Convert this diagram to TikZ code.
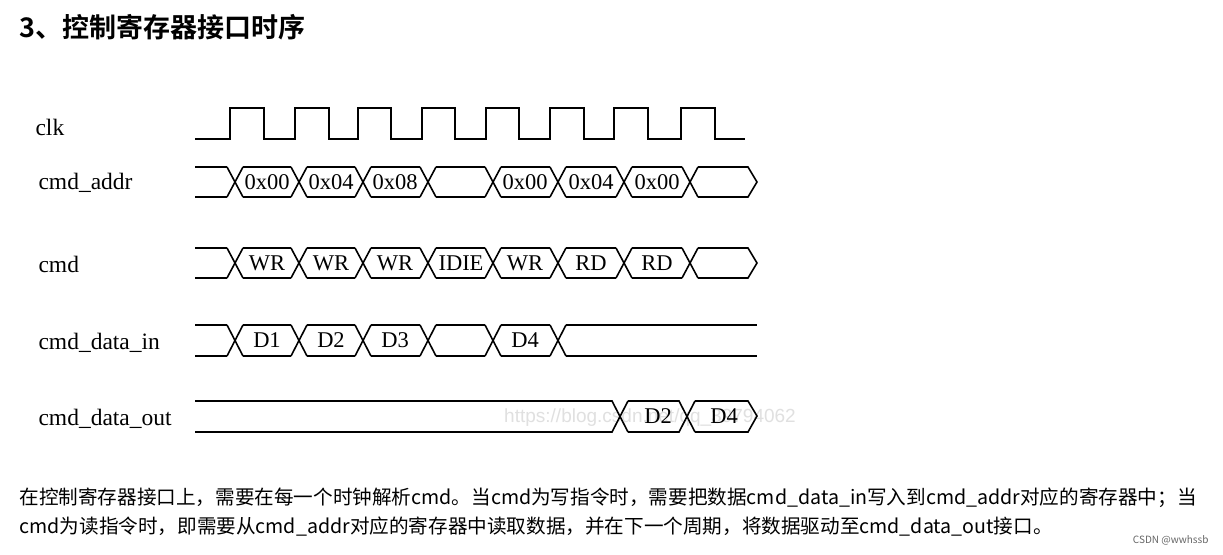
\documentclass[tikz,border=0pt]{standalone}
\usepackage{fontspec}
\setmainfont{Liberation Serif}
\newfontfamily\cjk{Noto Sans CJK SC}
\newfontfamily\cjkb{Noto Sans CJK SC Bold}
\newfontfamily\lsans{Liberation Sans}
\begin{document}
\begin{tikzpicture}[x=1pt,y=-1pt,
  wave/.style={line width=1.6pt,line join=miter},
  siglabel/.style={anchor=west,font=\fontsize{23.5}{23.5}\selectfont},
  val/.style={font=\fontsize{22.5}{22.5}\selectfont,inner sep=0pt}]
\useasboundingbox (0,0) rectangle (1223,554);
\fill[white] (0,0) rectangle (1223,554);
\node[anchor=west,font=\cjkb\fontsize{27}{27}\selectfont] (title) at (16,27) {3、控制寄存器接口时序};
% labels
\node[siglabel] (lclk) at (32,127) {clk};
\node[siglabel] (laddr) at (35,183) {cmd\_addr};
\node[siglabel] (lcmd) at (35,264) {cmd};
\node[siglabel] (lin) at (35,343) {cmd\_data\_in};
\node[siglabel] (lout) at (35,419) {cmd\_data\_out};
% clock
\draw[wave] (195,139) -- (230,139) -- (230,108) -- (264,108) -- (264,139)
 -- (295,139) -- (295,108) -- (329,108) -- (329,139)
 -- (358,139) -- (358,108) -- (391,108) -- (391,139)
 -- (422,139) -- (422,108) -- (455,108) -- (455,139)
 -- (486,139) -- (486,108) -- (519,108) -- (519,139)
 -- (550,139) -- (550,108) -- (584,108) -- (584,139)
 -- (614,139) -- (614,108) -- (648,108) -- (648,139)
 -- (681,139) -- (681,108) -- (715,108) -- (715,139) -- (745,139);
\newcommand{\busrow}[3]{%
  \def\rt{#1}\def\rb{#2}%
  \draw[wave] (195,\rt) -- (227,\rt) (195,\rb) -- (227,\rb);
  \foreach \c in {#3}{%
    \draw[wave] (\c-8,\rt) -- (\c+8,\rb) (\c-8,\rb) -- (\c+8,\rt);
  }%
}
\newcommand{\seg}[3]{\draw[wave] (#1+8,#3) -- (#2-8,#3);}
% cmd_addr
\busrow{167}{197}{235,299,363,428,493,558,624,690}
\foreach \a/\b in {235/299,299/363,363/428,428/493,493/558,558/624,624/690}{\seg{\a}{\b}{167}\seg{\a}{\b}{197}}
\draw[wave] (698,167) -- (748,167) -- (757,182) -- (748,197) -- (698,197);
\node[val] (a1) at (267,182) {0x00};
\node[val] (a2) at (331,182) {0x04};
\node[val] (a3) at (395,182) {0x08};
\node[val] (a5) at (525,182) {0x00};
\node[val] (a6) at (591,182) {0x04};
\node[val] (a7) at (657,182) {0x00};
% cmd
\busrow{248}{278}{235,299,363,428,493,558,624,690}
\foreach \a/\b in {235/299,299/363,363/428,428/493,493/558,558/624,624/690}{\seg{\a}{\b}{248}\seg{\a}{\b}{278}}
\draw[wave] (698,248) -- (748,248) -- (757,263) -- (748,278) -- (698,278);
\node[val] (c1) at (267,263) {WR};
\node[val] (c2) at (331,263) {WR};
\node[val] (c3) at (395,263) {WR};
\node[val] (c4) at (461,263) {IDIE};
\node[val] (c5) at (525,263) {WR};
\node[val] (c6) at (591,263) {RD};
\node[val] (c7) at (657,263) {RD};
% cmd_data_in
\busrow{325}{356}{235,299,363,428,493,558}
\foreach \a/\b in {235/299,299/363,363/428,428/493,493/558}{\seg{\a}{\b}{325}\seg{\a}{\b}{356}}
\draw[wave] (566,325) -- (757,325) (566,356) -- (757,356);
\node[val] (d1) at (267,340) {D1};
\node[val] (d2) at (331,340) {D2};
\node[val] (d3) at (395,340) {D3};
\node[val] (d4) at (525,340) {D4};
% cmd_data_out
\node[font=\lsans\fontsize{19}{19}\selectfont,text=black!12] (wm) at (650,418) {https://blog.csdn.net/qq\_39794062};
\draw[wave] (195,401) -- (612,401) -- (628,432) (195,432) -- (612,432) -- (628,401);
\draw[wave] (628,401) -- (679,401) -- (695,432) (628,432) -- (679,432) -- (695,401);
\draw[wave] (695,401) -- (748,401) -- (757,416) -- (748,432) -- (695,432);
\node[val] (o1) at (658,416) {D2};
\node[val] (o2) at (724,416) {D4};
% text
\node[anchor=west,font=\cjk\fontsize{19.6}{19.6}\selectfont] (p1) at (16,498) {在控制寄存器接口上，需要在每一个时钟解析cmd。当cmd为写指令时，需要把数据cmd\_data\_in写入到cmd\_addr对应的寄存器中；当};
\node[anchor=west,font=\cjk\fontsize{19.6}{19.6}\selectfont] (p2) at (16,527) {cmd为读指令时，即需要从cmd\_addr对应的寄存器中读取数据，并在下一个周期，将数据驱动至cmd\_data\_out接口。};
\node[anchor=east,font=\cjk\fontsize{10}{10}\selectfont,text=black!60] (csdn) at (1212,540) {CSDN @wwhssb};
\end{tikzpicture}
\end{document}
